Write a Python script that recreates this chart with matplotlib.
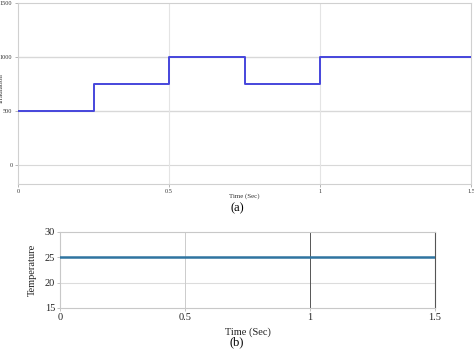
import matplotlib
matplotlib.use("Agg")
import matplotlib.pyplot as plt

plt.rcParams['font.family'] = ['Liberation Serif', 'DejaVu Serif']

# Irradiation step profile
irr_time = [0, 0.25, 0.5, 0.75, 1.0, 1.5]
irr_value = [500, 750, 1000, 750, 1000, 1000]
irr_yticks = [0, 500, 1000, 1500]
irr_xticks = [0, 0.5, 1, 1.5]
irr_xticklabels = ['0', '0.5', '1', '1.5']

# Temperature profile
temp_time = [0, 1.5]
temp_value = [25, 25]
temp_yticks = [15, 20, 25, 30]
temp_xticks = [0, 0.5, 1, 1.5]
temp_xticklabels = ['0', '0.5', '1', '1.5']

fig = plt.figure(figsize=(4.74, 3.49), dpi=100)

# ---- (a) Irradiation ----
ax1 = fig.add_axes([0.038, 0.473, 0.956, 0.518])
ax1.step(irr_time, irr_value, where='post', color='#4646dc', lw=1.4, zorder=3)
ax1.set_xlim(0, 1.5)
ax1.set_ylim(-175, 1500)
ax1.set_yticks(irr_yticks)
ax1.set_xticks(irr_xticks)
ax1.set_xticklabels(irr_xticklabels)
ax1.tick_params(labelsize=4.5, length=2, width=0.5, color='#999999', pad=2,
                labelcolor='#333333')
for y in [0, 500, 1000]:
    ax1.axhline(y, color='#d8d8d8', lw=1.0 if y else 0.8, zorder=1)
for x in [0.5, 1.0]:
    ax1.axvline(x, color='#e4e4e4', lw=0.8, zorder=1)
for s in ax1.spines.values():
    s.set_color('#d0d0d0')
    s.set_linewidth(0.8)
ax1.set_xlabel('Time (Sec)', fontsize=5, color='#333333')
ax1.set_ylabel('Irradiation', fontsize=5, color='#333333')
ax1.xaxis.set_label_coords(0.5, -0.05)
ax1.yaxis.set_label_coords(-0.031, 0.53)
fig.text(0.5, 0.403, '(a)', ha='center', va='center', fontsize=9)

# ---- (b) Temperature ----
ax2 = fig.add_axes([0.1266, 0.1175, 0.791, 0.2178])
ax2.plot(temp_time, temp_value, color='#2f74a0', lw=1.8, zorder=3)
ax2.set_xlim(0, 1.5)
ax2.set_ylim(15, 30)
ax2.set_yticks(temp_yticks)
ax2.set_xticks(temp_xticks)
ax2.set_xticklabels(temp_xticklabels)
ax2.tick_params(labelsize=7.5, length=2, width=0.5, color='#aaaaaa', pad=1.5,
                labelcolor='#222222')
for y in [20, 25]:
    ax2.axhline(y, color='#dcdcdc', lw=0.8, zorder=1)
ax2.axvline(0.5, color='#cccccc', lw=0.7, zorder=1)
ax2.axvline(1.0, color='#555555', lw=0.7, zorder=1)
for s in ['left', 'bottom', 'top']:
    ax2.spines[s].set_color('#c8c8c8')
    ax2.spines[s].set_linewidth(0.8)
ax2.spines['right'].set_color('#555555')
ax2.spines['right'].set_linewidth(0.8)
ax2.set_xlabel('Time (Sec)', fontsize=7.5, color='#222222')
ax2.set_ylabel('Temperature', fontsize=7.5, color='#222222')
ax2.xaxis.set_label_coords(0.5, -0.26)
ax2.yaxis.set_label_coords(-0.061, 0.5)
fig.text(0.5, 0.02, '(b)', ha='center', va='center', fontsize=9)

fig.savefig('out.png', dpi=100)
